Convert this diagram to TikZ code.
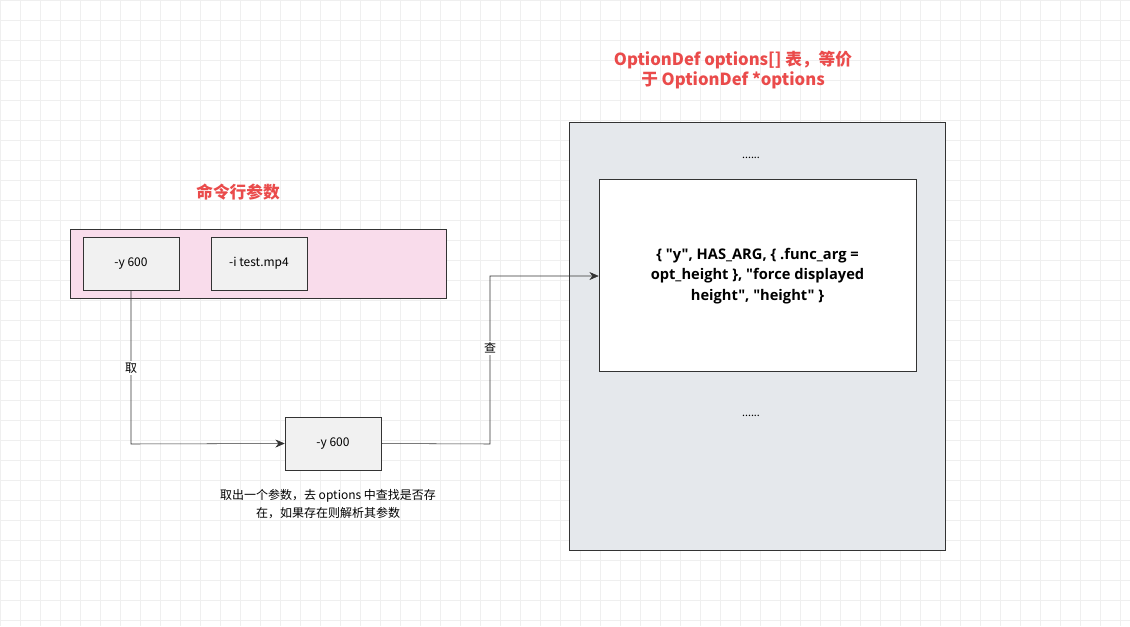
\documentclass[tikz,border=0pt]{standalone}
\usepackage{fontspec}
\setmainfont{Noto Sans CJK SC}
\newfontfamily\lat{Open Sans}
\usetikzlibrary{arrows.meta}
\definecolor{redt}{HTML}{EA4B4B}
\definecolor{pinkf}{HTML}{F9DCEB}
\definecolor{boxf}{HTML}{F1F1F1}
\definecolor{panel}{HTML}{E5E8EC}
\definecolor{gridc}{HTML}{EFEFEF}
\definecolor{linec}{HTML}{333333}
\begin{document}
\begin{tikzpicture}[x=0.75pt,y=-0.75pt,
  box/.style={draw=linec,fill=boxf,minimum width=96*0.75pt,minimum height=53*0.75pt,inner sep=0,font=\fontsize{9}{11}\selectfont},
  ttl/.style={text=redt,font=\bfseries\fontsize{12.5}{15}\selectfont,align=center},
  lbl/.style={fill=white,inner sep=1pt,font=\fontsize{9}{11}\selectfont},
  arr/.style={draw=linec,-{Stealth[length=7pt,width=6pt]}}]
\useasboundingbox (0,0) rectangle (1130,626);
\fill[white] (0,0) rectangle (1130,626);
\foreach \i in {0,20,...,1120}{\draw[gridc] (\i,0)--(\i,626);}
\foreach \j in {0,20,...,620}{\draw[gridc] (0,\j)--(1130,\j);}
\node[draw=linec,fill=pinkf,minimum width=376*0.75pt,minimum height=69*0.75pt,inner sep=0] (pink) at (258,263.5) {};
\node[box] (y1) at (131,263.5) {-y 600};
\node[box] (i1) at (259,263.5) {-i test.mp4};
\node[ttl] (t1) at (238,192) {命令行参数};
\node[box] (y2) at (333,443.5) {-y 600};
\node[align=center,font=\fontsize{9}{13.5}\selectfont] (cap) at (328,504) {取出一个参数，去 options 中查找是否存\\在，如果存在则解析其参数};
\node[draw=linec,fill=panel,minimum width=376*0.75pt,minimum height=428*0.75pt,inner sep=0] (panel) at (757,336) {};
\node[draw=linec,fill=white,minimum width=317*0.75pt,minimum height=192*0.75pt,inner sep=0] (wb) at (757.5,275) {};
\node[align=center,font=\lat\bfseries\fontsize{11}{15.5}\selectfont] (wt) at (757.5,276) {\{ "y", HAS\_ARG, \{ .func\_arg =\\opt\_height \}, "force displayed\\height", "height" \}};
\node[font=\fontsize{8}{10}\selectfont] (d1) at (751,158) {......};
\node[font=\fontsize{8}{10}\selectfont] (d2) at (751,416) {......};
\node[ttl] (t2) at (733,70) {OptionDef options[] 表，等价\\于 OptionDef *options};
\coordinate (c1) at (131,444);
\draw[arr] (y1.south) -- (c1) -- (y2.west);
\node[lbl] at (131,368) {取};
\coordinate (c2) at (490,444);
\coordinate (c3) at (490,276);
\draw[arr] (y2.east) -- (c2) -- (c3) -- (wb.west|-c3);
\node[lbl] at (490,348) {查};
\end{tikzpicture}
\end{document}
